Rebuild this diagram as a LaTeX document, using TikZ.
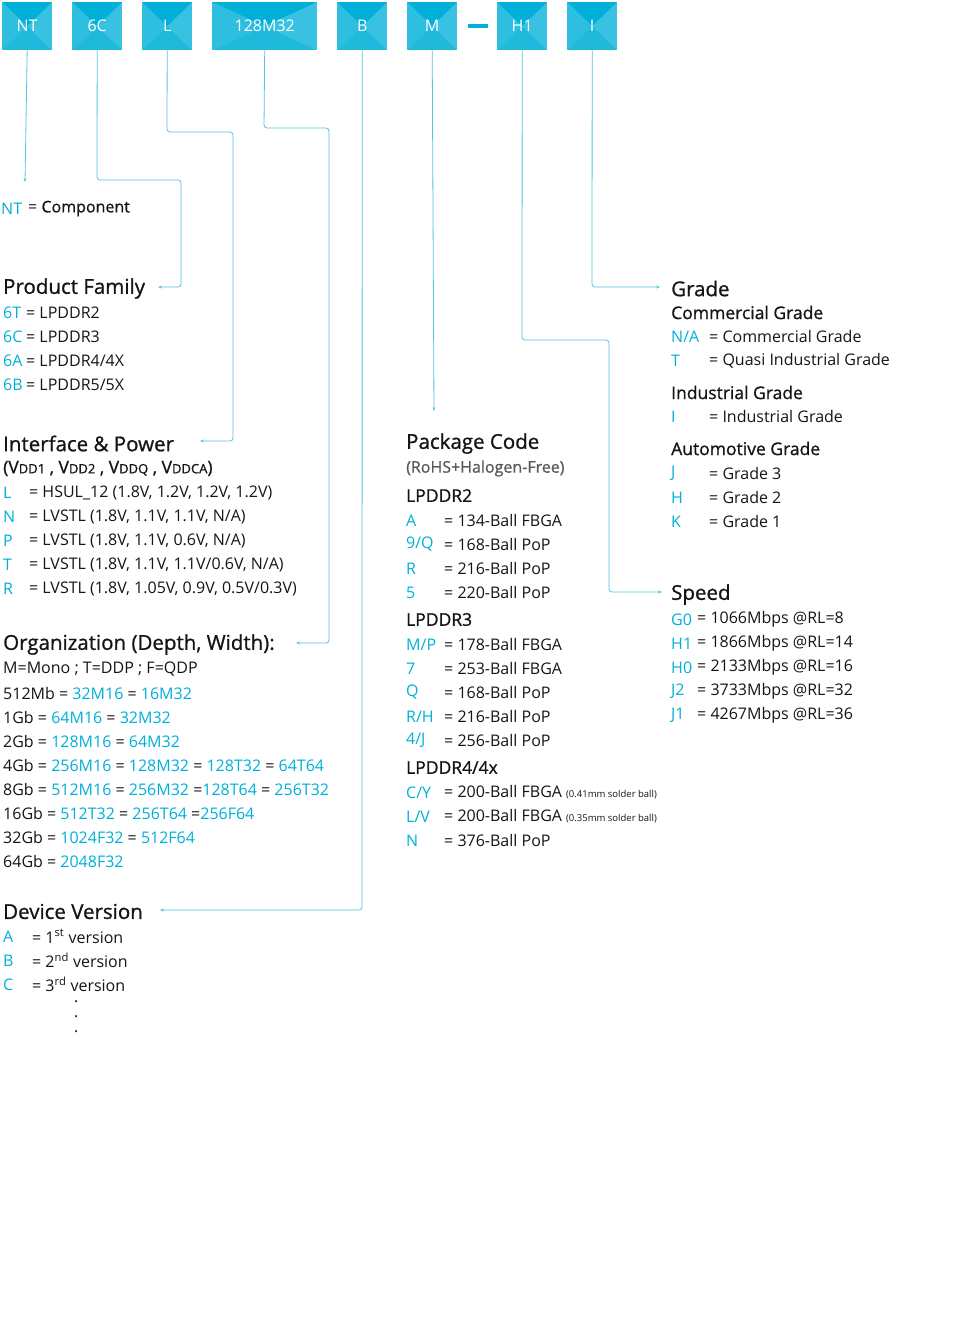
\documentclass[tikz,border=0pt]{standalone}
\usepackage{fontspec}
\setmainfont{Open Sans}
\newfontfamily\hf{Open Sans}[FakeBold=0.9]
\usetikzlibrary{arrows.meta}
\definecolor{cy}{HTML}{00B0D8}
\definecolor{cyl}{HTML}{56C3E0}
\definecolor{ink}{HTML}{151515}
\newcommand\cc[1]{\textcolor{cy}{#1}}
\newcommand\row[6]{%
 \node[t] (#1a) at (#2,#3) {\cc{#4}};
 \node[t] (#1b) at (#5,#3) {#6};}
\begin{document}
\begin{tikzpicture}[x=1pt,y=-1pt,
 box/.style={fill=cy,text=white,minimum height=48pt,inner sep=0pt,font=\fontsize{16}{18}\selectfont},
 t/.style={anchor=west,inner sep=0pt,yshift=-1.5pt,text=ink,font=\fontsize{16}{19}\selectfont},
 h/.style={anchor=west,inner sep=0pt,yshift=-1.5pt,text=ink,font=\hf\fontsize{20.5}{23}\selectfont},
 sh/.style={anchor=west,inner sep=0pt,yshift=-1.5pt,text=ink,font=\hf\fontsize{17.5}{20}\selectfont},
 con/.style={draw=cyl,line width=0.8pt,rounded corners=3pt},
 arr/.style={con,-{Stealth[length=4pt,width=3pt]}}]
\useasboundingbox (0,0) rectangle (968,1319);
% boxes
\foreach \n/\x/\w/\lab in {bNT/2/50/NT,b6C/72/50/6C,bL/142/50/L,b128/212/105/128M32,bB/337/50/B,bM/407/50/M,bH/497/50/H1,bI/567/50/I}{
 \node[box,minimum width=\w pt,anchor=north west] (\n) at (\x,2) {};
 \fill[white,opacity=0.18] (\n.north west)--(\n.center)--(\n.south west)--cycle;
 \fill[white,opacity=0.22] (\n.south east)--(\n.center)--(\n.north east)--cycle;
 \fill[white,opacity=0.12] (\n.south west)--(\n.center)--(\n.south east)--cycle;
 \node[text=white,font=\fontsize{16}{18}\selectfont] at (\n.center) {\lab};
}
\node[fill=cy,minimum width=20pt,minimum height=4pt,inner sep=0pt] (dash) at (478,26) {};
% left column
\row{nt}{1}{207}{NT}{28}{= {\hf Component}}
\node[h] (pf) at (3,287) {Product Family};
\row{f1}{3}{311}{6T}{26}{= LPDDR2}
\row{f2}{3}{335}{6C}{26}{= LPDDR3}
\row{f3}{3}{359}{6A}{26}{= LPDDR4/4X}
\row{f4}{3}{383}{6B}{26}{= LPDDR5/5X}
\node[h] (ip) at (3,442) {Interface \& Power};
\node[sh] (vdd) at (3,467) {(V{\fontsize{13}{14}\selectfont DD1} , V{\fontsize{13}{14}\selectfont DD2} , V{\fontsize{13}{14}\selectfont DDQ} , V{\fontsize{13}{14}\selectfont DDCA})};
\row{i1}{3}{491}{L}{29}{= HSUL\_12 (1.8V, 1.2V, 1.2V, 1.2V)}
\row{i2}{3}{515}{N}{29}{= LVSTL (1.8V, 1.1V, 1.1V, N/A)}
\row{i3}{3}{539}{P}{29}{= LVSTL (1.8V, 1.1V, 0.6V, N/A)}
\row{i4}{3}{563}{T}{29}{= LVSTL (1.8V, 1.1V, 1.1V/0.6V, N/A)}
\row{i5}{3}{587}{R}{29}{= LVSTL (1.8V, 1.05V, 0.9V, 0.5V/0.3V)}
\node[h] (org) at (3,643) {Organization (Depth, Width):};
\node[t] (o0) at (3,668) {M=Mono ; T=DDP ; F=QDP};
\node[t] (o1) at (3,692) {512Mb = \cc{32M16} = \cc{16M32}};
\node[t] (o2) at (3,716) {1Gb = \cc{64M16} = \cc{32M32}};
\node[t] (o3) at (3,740) {2Gb = \cc{128M16} = \cc{64M32}};
\node[t] (o4) at (3,764) {4Gb = \cc{256M16} = \cc{128M32} = \cc{128T32} = \cc{64T64}};
\node[t] (o5) at (3,788) {8Gb = \cc{512M16} = \cc{256M32} =\cc{128T64} = \cc{256T32}};
\node[t] (o6) at (3,812) {16Gb = \cc{512T32} = \cc{256T64} =\cc{256F64}};
\node[t] (o7) at (3,836) {32Gb = \cc{1024F32} = \cc{512F64}};
\node[t] (o8) at (3,860) {64Gb = \cc{2048F32}};
\node[h] (dv) at (3,910) {Device Version};
\row{d1}{3}{935}{A}{32}{= 1\textsuperscript{st} version}
\row{d2}{3}{959}{B}{32}{= 2\textsuperscript{nd} version}
\row{d3}{3}{983}{C}{32}{= 3\textsuperscript{rd} version}
\node[t] (dot1) at (74,1000) {.};
\node[t] (dot2) at (74,1015) {.};
\node[t] (dot3) at (74,1030) {.};
% middle column
\node[h] (pc) at (406,442) {Package Code};
\node[t,text=black!65,font=\hf\fontsize{16}{19}\selectfont] (rohs) at (406,467) {(RoHS+Halogen-Free)};
\node[sh] (l2) at (406,494) {LPDDR2};
\row{p1}{406}{519}{A}{444}{= 134-Ball FBGA}
\row{p2}{406}{543}{9/Q}{444}{= 168-Ball PoP}
\row{p3}{406}{567}{R}{444}{= 216-Ball PoP}
\row{p4}{406}{591}{5}{444}{= 220-Ball PoP}
\node[sh] (l3) at (406,618) {LPDDR3};
\row{p5}{406}{643}{M/P}{444}{= 178-Ball FBGA}
\row{p6}{406}{667}{7}{444}{= 253-Ball FBGA}
\row{p7}{406}{691}{Q}{444}{= 168-Ball PoP}
\row{p8}{406}{715}{R/H}{444}{= 216-Ball PoP}
\row{p9}{406}{739}{4/J}{444}{= 256-Ball PoP}
\node[sh] (l4) at (406,766) {LPDDR4/4x};
\row{pa}{406}{791}{C/Y}{444}{= 200-Ball FBGA {\fontsize{9.5}{10}\selectfont (0.41mm solder ball)}}
\row{pb}{406}{815}{L/V}{444}{= 200-Ball FBGA {\fontsize{9.5}{10}\selectfont (0.35mm solder ball)}}
\row{pc}{406}{839}{N}{444}{= 376-Ball PoP}
% right column
\node[h] (gr) at (671,287) {Grade};
\node[sh] (cg) at (671,311) {Commercial Grade};
\row{g1}{671}{335}{N/A}{709}{= Commercial Grade}
\row{g2}{671}{359}{T}{709}{= Quasi Industrial Grade}
\node[sh] (ig) at (671,391) {Industrial Grade};
\row{g3}{671}{415}{I}{709}{= Industrial Grade}
\node[sh] (ag) at (671,447) {Automotive Grade};
\row{g4}{671}{472}{J}{709}{= Grade 3}
\row{g5}{671}{496}{H}{709}{= Grade 2}
\row{g6}{671}{520}{K}{709}{= Grade 1}
\node[h] (sp) at (671,593) {Speed};
\row{s1}{671}{618}{G0}{697}{= 1066Mbps @RL=8}
\row{s2}{671}{642}{H1}{697}{= 1866Mbps @RL=14}
\row{s3}{671}{666}{H0}{697}{= 2133Mbps @RL=16}
\row{s4}{671}{690}{J2}{697}{= 3733Mbps @RL=32}
\row{s5}{671}{714}{J1}{697}{= 4267Mbps @RL=36}
% connector ends
\coordinate (eNT) at (25,182);
\coordinate (e6C) at (158,287);
\coordinate (eL) at (200,441);
\coordinate (e128) at (296,643);
\coordinate (eB) at (160,910);
\coordinate (eM) at (434,411);
\coordinate (eH) at (662,592);
\coordinate (eI) at (660,287);
\draw[arr] (bNT.south) -- (eNT);
\draw[arr] (b6C.south) -- (97,180) -- (181,180) -- (181,287) -- (e6C);
\draw[arr] (bL.south) -- (167,132) -- (233,132) -- (233,441) -- (eL);
\draw[arr] (b128.south) -- (264,128) -- (329,128) -- (329,643) -- (e128);
\draw[arr] (bB.south) -- (362,910) -- (eB);
\draw[arr] (bM.south) -- (eM);
\draw[arr] (bH.south) -- (522,340) -- (609,340) -- (609,592) -- (eH);
\draw[arr] (bI.south) -- (592,287) -- (eI);
\end{tikzpicture}
\end{document}
